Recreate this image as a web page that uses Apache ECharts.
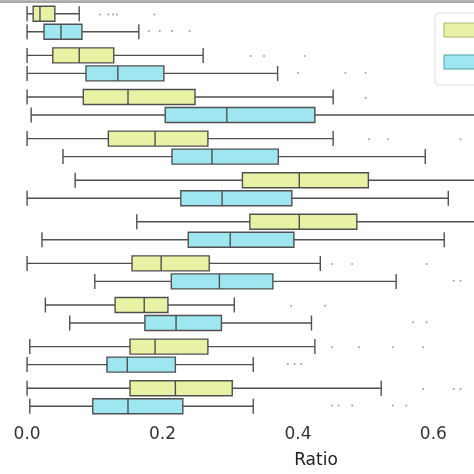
<!DOCTYPE html>
<html><head><meta charset="utf-8">
<script src="https://cdn.jsdelivr.net/npm/echarts@6/dist/echarts.min.js"></script>
<style>html,body{margin:0;padding:0;background:#fff}#c{width:474px;height:474px}</style>
</head><body><div id="c"></div>
<script>
const categories = ['g1','g2','g3','g4','g5','g6','g7','g8','g9','g10'];
// [min, Q1, median, Q3, max]
const yellowBoxes = [
  [0.0,0.009,0.019,0.041,0.077],
  [0.0,0.038,0.077,0.128,0.26],
  [0.0,0.083,0.149,0.248,0.452],
  [0.0,0.12,0.189,0.267,0.452],
  [0.071,0.318,0.402,0.504,0.70],
  [0.162,0.329,0.402,0.487,0.70],
  [0.0,0.155,0.198,0.269,0.433],
  [0.027,0.13,0.173,0.208,0.306],
  [0.004,0.152,0.189,0.267,0.425],
  [0.0,0.152,0.219,0.303,0.523]
];
const cyanBoxes = [
  [0.0,0.025,0.05,0.081,0.165],
  [0.0,0.087,0.134,0.202,0.37],
  [0.006,0.204,0.295,0.425,0.70],
  [0.053,0.214,0.273,0.371,0.588],
  [0.0,0.227,0.288,0.391,0.622],
  [0.022,0.238,0.30,0.394,0.616],
  [0.1,0.213,0.284,0.363,0.545],
  [0.063,0.174,0.22,0.287,0.42],
  [0.0,0.118,0.148,0.219,0.334],
  [0.004,0.097,0.149,0.23,0.334]
];
const yellowOutliers = [
  [0.108,0.12,0.127,0.133,0.188],[0.33,0.35,0.41],[0.5],[0.505,0.533,0.64],[],[],
  [0.45,0.48,0.59],[0.39,0.44],[0.45,0.49,0.54,0.585],[0.585,0.63,0.64]
];
const cyanOutliers = [
  [0.18,0.196,0.214,0.24],[0.4,0.47,0.5],[],[],[],[],
  [0.63,0.64],[0.57,0.59],[0.385,0.395,0.405],[0.45,0.46,0.48,0.54,0.56]
];
const xTicks = [0, 0.2, 0.4, 0.6];

function pts(arr, off){const r=[];arr.forEach((g,i)=>g.forEach(v=>r.push([v,i+0.5+off])));return r;}
const chart = echarts.init(document.getElementById('c'));
chart.setOption({
  animation:false,
  grid:{left:0,right:0,top:2,bottom:48},
  xAxis:{type:'value',min:-0.04,max:0.66,
    axisLine:{show:true,lineStyle:{color:'#aaa',width:2}},
    axisTick:{show:false},splitLine:{show:false},
    axisLabel:{customValues:xTicks,formatter:v=>v.toFixed(1),fontSize:17,color:'#333',margin:8,fontFamily:'DejaVu Sans'},
    name:'Ratio',nameLocation:'middle',nameGap:34,nameTextStyle:{fontSize:17,color:'#222',padding:[0,0,0,158],fontFamily:'DejaVu Sans'}},
  yAxis:[{type:'category',data:categories,inverse:true,axisLine:{show:false},axisTick:{show:false},axisLabel:{show:false}},
    {type:'value',min:0,max:10,inverse:true,show:false}],
  series:[
    {type:'boxplot',data:yellowBoxes,boxWidth:[15,15],itemStyle:{color:'#e9f2a4',borderColor:'#505050',borderWidth:1.4},z:3},
    {type:'boxplot',data:cyanBoxes,boxWidth:[15,15],itemStyle:{color:'#9fe7f0',borderColor:'#505050',borderWidth:1.4},z:3},
    {type:'scatter',yAxisIndex:1,data:pts(yellowOutliers,-0.2),symbolSize:2,itemStyle:{color:'#888'}},
    {type:'scatter',yAxisIndex:1,data:pts(cyanOutliers,0.2),symbolSize:2,itemStyle:{color:'#888'}}
  ],
  graphic:[
    {type:'line',shape:{x1:0,y1:1,x2:474,y2:1},style:{stroke:'#bbb',lineWidth:2}},
    {type:'rect',shape:{x:435,y:13,width:50,height:72,r:4},style:{fill:'#fff',stroke:'#ddd',lineWidth:1}},
    {type:'rect',shape:{x:444,y:23,width:40,height:14},style:{fill:'#e9f2a4',stroke:'#b0b070'}},
    {type:'rect',shape:{x:444,y:55,width:40,height:14},style:{fill:'#9fe7f0',stroke:'#4aa0a8'}}
  ]
});
</script></body></html>
